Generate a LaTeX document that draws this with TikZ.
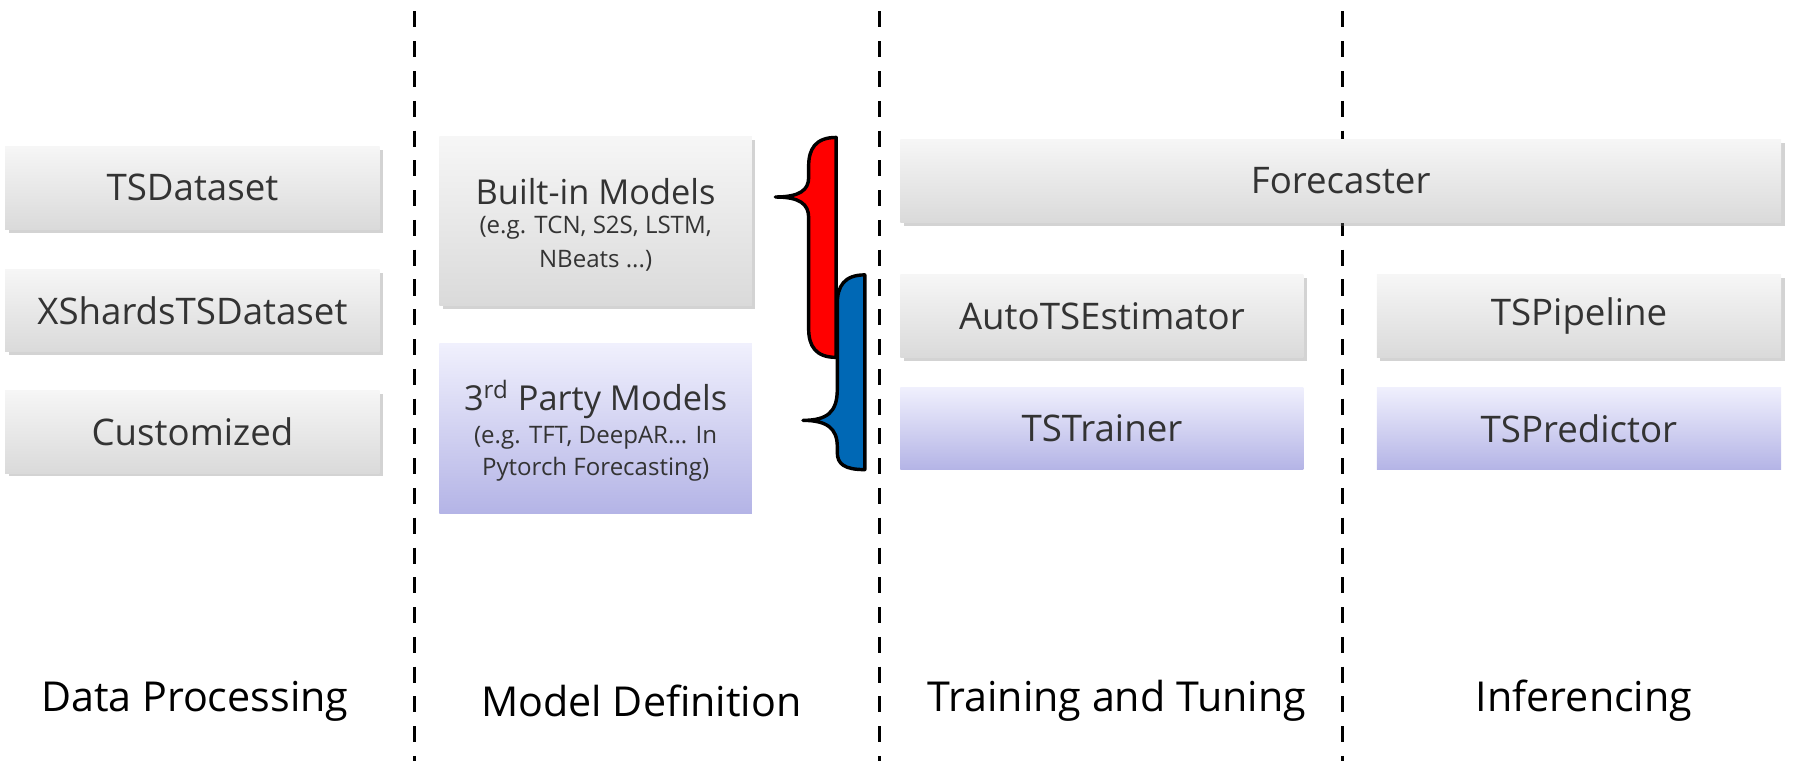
\documentclass[tikz,border=0pt]{standalone}
\usepackage{fontspec}
\setmainfont{Open Sans}
\usetikzlibrary{shadows}
\definecolor{gtop}{HTML}{F6F6F6}\definecolor{gbot}{HTML}{DADADA}
\definecolor{ltop}{HTML}{F0F0FD}\definecolor{lbot}{HTML}{B4B4E6}
\definecolor{bbl}{HTML}{0068B5}
\tikzset{
 gbox/.style={draw=none,top color=gtop,bottom color=gbot,drop shadow={shadow xshift=1.5pt,shadow yshift=-1.5pt,opacity=0.35},inner sep=0pt,font=\fontsize{16}{18}\selectfont,text=black!80},
 lbox/.style={draw=none,top color=ltop,bottom color=lbot,inner sep=0pt,font=\fontsize{16}{18}\selectfont,text=black!80},
 small/.style={font=\fontsize{10.5}{12}\selectfont,text=black!80},
 sep/.style={dashed,line width=1.5pt,dash pattern=on 7pt off 6pt},
 lab/.style={font=\fontsize{18}{22}\selectfont},
 brace/.style={draw=black,line width=1.5pt,line join=round}
}
\begin{document}
\begin{tikzpicture}[x=0.5pt,y=-0.5pt]
\useasboundingbox (0,0) rectangle (1568,667);
\draw[sep] (362,10) -- (362,664);
\draw[sep] (768,10) -- (768,664);
\draw[sep] (1172,10) -- (1172,664);
% left
\node[gbox,minimum width=163.5pt,minimum height=36pt] (tsd) at (168,164) {TSDataset};
\node[gbox,minimum width=163.5pt,minimum height=36pt] (xsh) at (168,271) {XShardsTSDataset};
\node[gbox,minimum width=163.5pt,minimum height=36pt] (cus) at (168,377) {Customized};
% models
\node[gbox,minimum width=136.5pt,minimum height=73.5pt] (bim) at (520,193) {};
\node[font=\fontsize{15}{16}\selectfont,text=black!80] (bimt) at (520,167) {Built-in Models};
\node[small] (bim2) at (520,199) {(e.g. TCN, S2S, LSTM,};
\node[small] (bim3) at (520,228) {NBeats ...)};
\node[lbox,minimum width=136.5pt,minimum height=74pt] (tpm) at (520,374) {};
\node[font=\fontsize{15}{16}\selectfont,text=black!80] (tpmt) at (520,349) {3\textsuperscript{rd} Party Models};
\node[small] (tpm2) at (520,382) {(e.g. TFT, DeepAR... In};
\node[small] (tpm3) at (520,410) {Pytorch Forecasting)};
% braces
\path[brace,fill=red] (730,120) .. controls (712,120) and (706,130) .. (706,145)
  -- (706,155) .. controls (706,166) and (698,172) .. (677,172)
  .. controls (698,172) and (706,178) .. (706,190)
  -- (706,287) .. controls (706,302) and (712,312) .. (730,312) -- cycle;
\path[brace,fill=bbl] (755,240) .. controls (737,240) and (731,250) .. (731,265)
  -- (731,340) .. controls (731,360) and (722,367) .. (701,367)
  .. controls (722,367) and (731,374) .. (731,390)
  -- (731,395) .. controls (731,405) and (737,410) .. (755,410) -- cycle;
% right
\node[gbox,minimum width=384.5pt,minimum height=36pt] (fc) at (1170.5,158) {Forecaster};
\node[gbox,minimum width=176pt,minimum height=36pt] (ate) at (962,276) {AutoTSEstimator};
\node[gbox,minimum width=176.5pt,minimum height=36pt] (tsp) at (1378.5,276) {TSPipeline};
\node[lbox,minimum width=176pt,minimum height=36pt] (tst) at (962,374) {TSTrainer};
\node[lbox,minimum width=176.5pt,minimum height=36pt] (tpr) at (1378.5,374) {TSPredictor};
% labels
\node[lab] (l1) at (170,612) {Data Processing};
\node[lab] (l2) at (560,612) {Model Definition};
\node[lab] (l3) at (975,612) {Training and Tuning};
\node[lab] (l4) at (1383,612) {Inferencing};
\end{tikzpicture}
\end{document}
